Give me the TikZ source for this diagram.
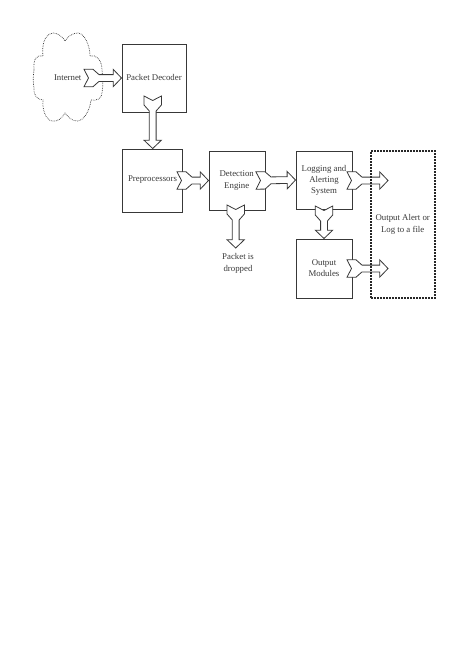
\documentclass[tikz,border=0pt]{standalone}
\usepackage{fontspec}
\setmainfont{Liberation Serif}
\usetikzlibrary{calc}
\definecolor{inkgray}{gray}{0.22}
\tikzset{
  blockbox/.style={draw=inkgray,line width=1pt,inner sep=0pt,align=center},
  plainlabel/.style={inner sep=0pt,align=center,text=inkgray,font=\fontsize{8.8}{11.3}\selectfont},
  hollow/.style={draw=inkgray,line width=0.8pt,fill=white,line join=miter},
}
% swallow-tail block arrow from #1 to #2
\newcommand{\hollowarrow}[2]{%
  \path let \p1=($(#2)-(#1)$) in \pgfextra{%
    \pgfmathsetmacro\tmpang{atan2(\y1,\x1)}%
    \pgfmathsetmacro\tmplen{veclen(\x1,\y1)}%
    \xdef\arrang{\tmpang}\xdef\arrlen{\tmplen}};
  \begin{scope}[shift={(#1)},rotate=\arrang]
    \draw[hollow] (0,-8.7) -- (9,-8.7) -- (15,-3.4) -- ({\arrlen-8.3},-3.4) -- ({\arrlen-8.3},-8.7)
      -- (\arrlen,0) -- ({\arrlen-8.3},8.7) -- ({\arrlen-8.3},3.4) -- (15,3.4) -- (9,8.7) -- (0,8.7) -- (4.5,0) -- cycle;
  \end{scope}}
\begin{document}
\begin{tikzpicture}[x=1pt,y=-1pt]
  \useasboundingbox (0,0) rectangle (474,670);
  % cloud
  \draw[black!80,line width=0.7pt,densely dotted] (34,70)
    .. controls (33,58) and (37,55) .. (43,56)
    .. controls (41,40) and (48,33) .. (53,33)
    .. controls (58,33) and (63,37) .. (65,41)
    .. controls (68,36) and (73,33) .. (78,33)
    .. controls (84,33) and (90,45) .. (90,56)
    .. controls (96,54) and (102,60) .. (102,70)
    .. controls (103,80) and (103,88) .. (102,93)
    .. controls (102,99) and (96,101) .. (91,100)
    .. controls (90,110) and (84,121) .. (77,121)
    .. controls (72,121) and (68,117) .. (65,113)
    .. controls (62,118) and (58,122) .. (52,121)
    .. controls (46,120) and (42,110) .. (43,100)
    .. controls (37,100) and (33,94) .. (34,88)
    .. controls (33,82) and (33,76) .. (34,70) -- cycle;

  \node[blockbox,minimum width=64pt,minimum height=68pt] (decoder) at (154,78) {};
  \node[blockbox,minimum width=60pt,minimum height=63pt] (preproc) at (152,180.5) {};
  \node[blockbox,minimum width=56pt,minimum height=59pt] (detect) at (237,180.5) {};
  \node[blockbox,minimum width=56pt,minimum height=58pt] (logging) at (324,180) {};
  \node[blockbox,minimum width=56pt,minimum height=59pt] (outmod) at (324,268.5) {};

  \coordinate (nettail) at (84,78);
  \coordinate (dectail) at (152.7,96);
  \coordinate (pretail) at (177,180.5);
  \coordinate (dettail) at (256,180.5);
  \coordinate (dropend) at (235.7,248);
  \coordinate (droptail) at (235.7,205);
  \coordinate (logtail) at (347,180.5);
  \coordinate (logend) at (388,180.5);
  \coordinate (outtail) at (324,206);
  \coordinate (modtail) at (347,268.5);
  \coordinate (modend) at (388,268.5);

  \hollowarrow{nettail}{decoder.west}
  \hollowarrow{dectail}{dectail |- preproc.north}
  \hollowarrow{pretail}{detect.west}
  \hollowarrow{dettail}{logging.west}
  \hollowarrow{droptail}{dropend}
  \hollowarrow{outtail}{outmod.north}
  \hollowarrow{logtail}{logend}
  \hollowarrow{modtail}{modend}

  \node[draw=black!85,line width=1.2pt,dash pattern=on 1.8pt off 1.2pt,minimum width=64pt,minimum height=147pt,inner sep=0pt] (alert) at (403,224.5) {};

  \node[plainlabel] (netlabel) at (67.7,77.7) {Internet};
  \node[plainlabel] (declabel) at (154,77.7) {Packet Decoder};
  \node[plainlabel] (prelabel) at (152.5,180) {Preprocessors};
  \node[plainlabel] (detlabel) at (236.7,180.5) {Detection\\Engine};
  \node[plainlabel] (loglabel) at (324,180.5) {Logging and\\Alerting\\System};
  \node[plainlabel] (modlabel) at (324,268) {Output\\Modules};
  \node[plainlabel] (alertlabel) at (402.7,224.5) {Output Alert or\\Log to a file};
  \node[plainlabel] (droplabel) at (238,263.5) {Packet is\\dropped};
\end{tikzpicture}
\end{document}
